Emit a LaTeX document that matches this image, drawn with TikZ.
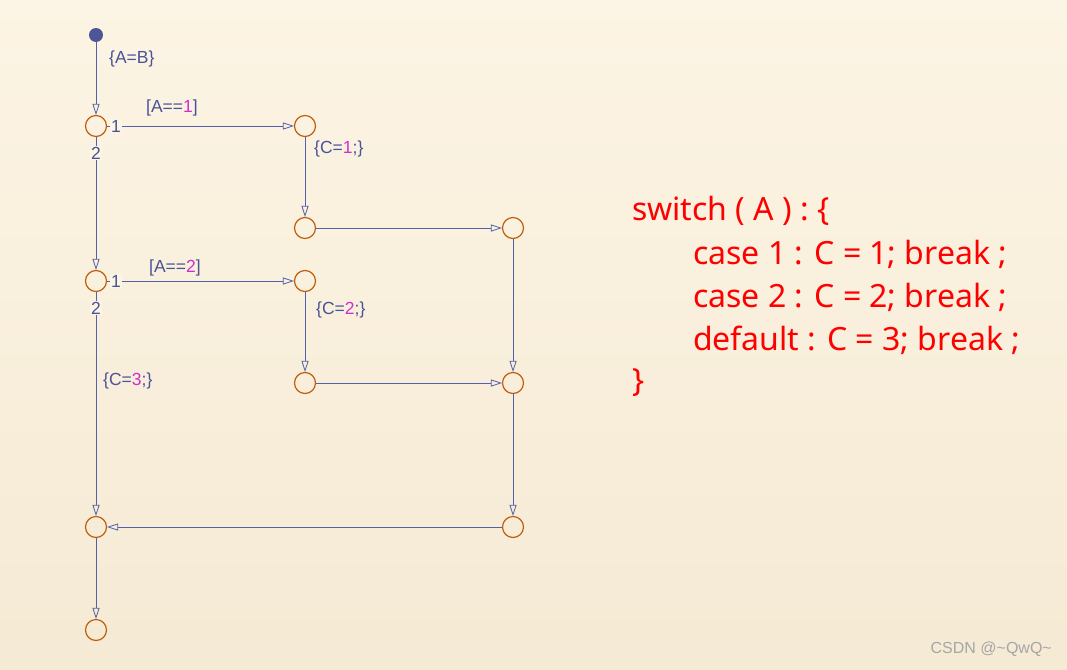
\documentclass[tikz,border=0pt]{standalone}
\usepackage{fontspec}
\setmainfont{Liberation Sans}
\newfontfamily\codefont{Noto Sans}
\usetikzlibrary{arrows.meta}
\definecolor{bgtop}{HTML}{FCF4E4}
\definecolor{bgbot}{HTML}{F5EAD4}
\definecolor{ln}{HTML}{5460A8}
\definecolor{tx}{HTML}{4A5396}
\definecolor{mg}{HTML}{D030C8}
\definecolor{jc}{HTML}{C0600E}
\begin{document}
\begin{tikzpicture}[x=1pt,y=-1pt,
  J/.style={circle,draw=jc,line width=1.2pt,minimum size=21pt,inner sep=0pt,fill=none},
  tr/.style={draw=ln,line width=0.8pt,-{Triangle[open,length=11pt,width=7pt]}},
  lab/.style={text=tx,font=\fontsize{17.5}{20}\selectfont,inner sep=0pt},
  code/.style={text=red,font=\codefont\fontsize{32}{35}\selectfont,anchor=west,inner sep=0pt}]
\shade[top color=bgtop,bottom color=bgbot] (0,0) rectangle (1067,669);
\useasboundingbox (0,0) rectangle (1067,669);
\node[circle,fill=ln!90!black,minimum size=14pt,inner sep=0pt] (s) at (96,35) {};
\node[J] (j1) at (96,126) {};
\node[J] (j2) at (305,126) {};
\node[J] (j3) at (305,228) {};
\node[J] (j4) at (513,228) {};
\node[J] (j5) at (96,281) {};
\node[J] (j6) at (305,281) {};
\node[J] (j7) at (305,383) {};
\node[J] (j8) at (513,383) {};
\node[J] (j9) at (96,527) {};
\node[J] (j10) at (513,527) {};
\node[J] (j11) at (96,630) {};
\draw[tr] (s) -- (j1);
\draw[tr] (j1) -- (j2);
\draw[tr] (j2) -- (j3);
\draw[tr] (j3) -- (j4);
\draw[tr] (j4) -- (j8);
\draw[tr] (j1) -- (j5);
\draw[tr] (j5) -- (j6);
\draw[tr] (j6) -- (j7);
\draw[tr] (j7) -- (j8);
\draw[tr] (j8) -- (j10);
\draw[tr] (j10) -- (j9);
\draw[tr] (j5) -- (j9);
\draw[tr] (j9) -- (j11);
\node[lab,anchor=west] at (109,59) {\{A=B\}};
\node[lab,fill=bgtop,inner sep=1pt] at (116,126) {1};
\node[lab,fill=bgtop,inner sep=1pt] at (96,153) {2};
\node[lab,fill=bgtop,inner sep=1pt] at (116,281) {1};
\node[lab,fill=bgtop,inner sep=1pt] at (96,308) {2};
\node[lab,anchor=west] at (146,108) {[A==\textcolor{mg}{1}]};
\node[lab,anchor=west] at (149,268) {[A==\textcolor{mg}{2}]};
\node[lab,anchor=west] at (314,149) {\{C=\textcolor{mg}{1};\}};
\node[lab,anchor=west] at (316,310) {\{C=\textcolor{mg}{2};\}};
\node[lab,anchor=west] at (103,381) {\{C=\textcolor{mg}{3};\}};
\node[code] at (632,211) {switch ( A ) : \{};
\node[code] at (693,254) {case 1 : C = 1; break ;};
\node[code] at (693,297) {case 2 : C = 2; break ;};
\node[code] at (693,340) {default : C = 3; break ;};
\node[code] at (632,383) {\}};
\node[text=gray!70,font=\fontsize{16}{18}\selectfont,anchor=east,inner sep=0pt] at (1052,649) {CSDN @\textasciitilde QwQ\textasciitilde};
\end{tikzpicture}
\end{document}
